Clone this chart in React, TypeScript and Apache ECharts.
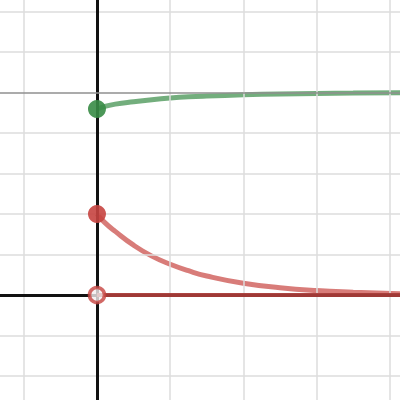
import { useEffect, useRef } from "react";
import * as echarts from "echarts";

// view window
const xRange = [-1.325, 4.14];
const yRange = [-2.59, 7.28];

// grid lines
const gridXs = [-1, 0, 1, 2, 3, 4];
const gridYs = [-2, -1, 0, 1, 2, 3, 4, 5, 6, 7];

// sampled curves
const curveX = [0, 0.1, 0.25, 0.5, 0.75, 1, 1.25, 1.5, 2, 2.5, 3, 3.5, 4.2];
const greenY = [4.59, 4.65, 4.71, 4.77, 4.82, 4.86, 4.89, 4.91, 4.94, 4.96, 4.975, 4.985, 4.992];
const redY = [2, 1.8, 1.57, 1.23, 0.96, 0.76, 0.6, 0.47, 0.29, 0.18, 0.11, 0.07, 0.03];

// flat line + asymptote
const flatX = [0, 4.2];
const flatY = [0, 0];
const asymptote = 5;

// end points
const greenDot = [0, 4.59];
const redDot = [0, 2];
const openDot = [0, 0];

const red = "#c74440";
const green = "#388c46";

export default function App() {
  const chartRef = useRef<HTMLDivElement>(null);

  useEffect(() => {
    if (!chartRef.current) return;
    const chart = echarts.init(chartRef.current, undefined, { renderer: "svg" });

    const zip = (xs: number[], ys: number[]) => xs.map((x, i) => [x, ys[i]]);

    chart.setOption({
      animation: false,
      backgroundColor: "#ffffff",
      grid: { left: 0, right: 0, top: 0, bottom: 0 },
      xAxis: {
        type: "value",
        min: xRange[0],
        max: xRange[1],
        show: false,
        splitLine: { show: false },
      },
      yAxis: {
        type: "value",
        min: yRange[0],
        max: yRange[1],
        show: false,
        splitLine: { show: false },
      },
      series: [
        {
          // grid lines
          type: "line",
          data: [],
          z: 1,
          markLine: {
            silent: true,
            symbol: "none",
            label: { show: false },
            lineStyle: { color: "#dcdcdc", width: 1.5, type: "solid" },
            data: [
              ...gridXs.filter((v) => v !== 0).map((v) => ({ xAxis: v })),
              ...gridYs.filter((v) => v !== 0 && v !== asymptote).map((v) => ({ yAxis: v })),
            ],
          },
        },
        {
          // axes
          type: "line",
          data: [],
          z: 2,
          markLine: {
            silent: true,
            symbol: "none",
            label: { show: false },
            lineStyle: { color: "#111111", width: 3, type: "solid" },
            data: [{ xAxis: 0 }, { yAxis: 0 }],
          },
        },
        {
          // asymptote
          type: "line",
          data: [],
          z: 3,
          markLine: {
            silent: true,
            symbol: "none",
            label: { show: false },
            lineStyle: { color: "#8f8f8f", width: 1.5, type: "solid" },
            data: [{ yAxis: asymptote }],
          },
        },
        {
          type: "line",
          data: zip(curveX, greenY),
          smooth: true,
          symbol: "none",
          z: 4,
          lineStyle: { color: green, width: 5, opacity: 0.7 },
        },
        {
          type: "line",
          data: zip(curveX, redY),
          smooth: true,
          symbol: "none",
          z: 4,
          lineStyle: { color: red, width: 5, opacity: 0.7 },
        },
        {
          type: "line",
          data: zip(flatX, flatY),
          symbol: "none",
          z: 5,
          lineStyle: { color: "#a83c39", width: 4, opacity: 0.95 },
        },
        {
          type: "scatter",
          data: [greenDot],
          symbolSize: 18,
          z: 6,
          itemStyle: { color: green, opacity: 0.9 },
        },
        {
          type: "scatter",
          data: [redDot],
          symbolSize: 18,
          z: 6,
          itemStyle: { color: red, opacity: 0.9 },
        },
        {
          type: "scatter",
          data: [openDot],
          symbolSize: 15,
          z: 6,
          itemStyle: { color: "#f4eded", borderColor: red, borderWidth: 3.5 },
        },
      ],
    });

    return () => chart.dispose();
  }, []);

  return (
    <div
      ref={chartRef}
      style={{ position: "fixed", left: 0, top: 0, width: 400, height: 400 }}
    />
  );
}
